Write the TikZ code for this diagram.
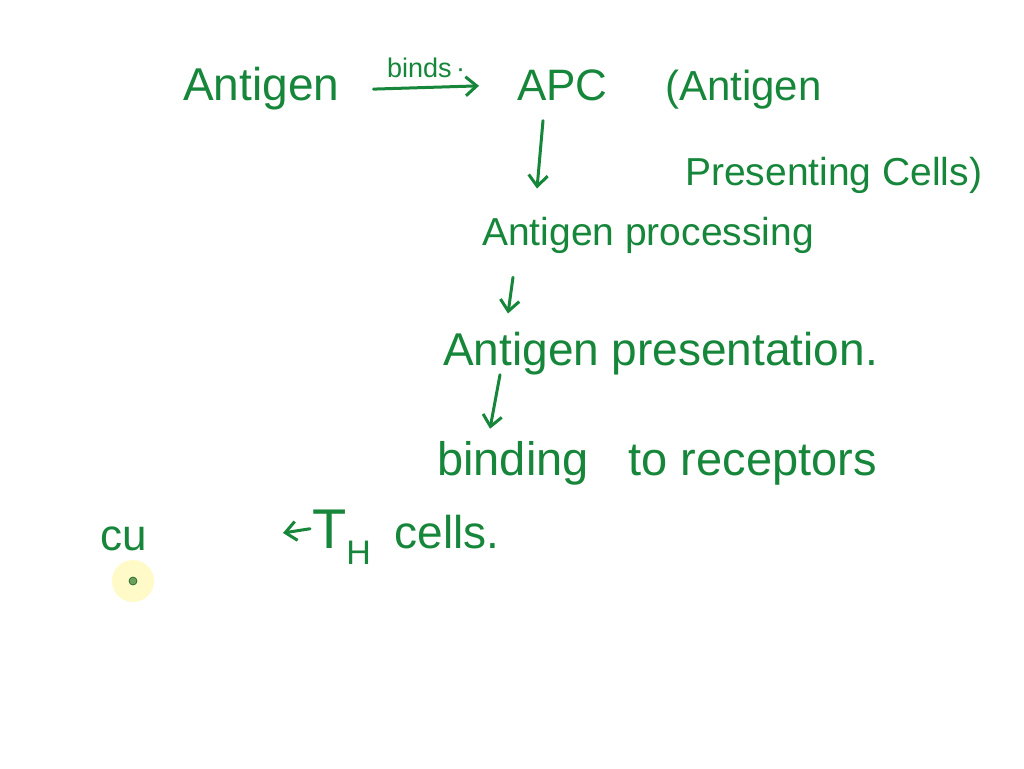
\documentclass[tikz,border=0pt]{standalone}
\usepackage{fontspec}
\setmainfont{Liberation Sans}
\usetikzlibrary{arrows.meta,calc}
\definecolor{ink}{RGB}{22,134,58}
\definecolor{hilite}{RGB}{255,250,190}
\definecolor{dotc}{RGB}{110,160,90}
\begin{document}
\begin{tikzpicture}[x=1pt,y=-1pt,
  txt/.style={inner sep=0pt,anchor=base west,text=ink,font=\fontsize{42}{46}\selectfont},
  small/.style={inner sep=0pt,anchor=base west,text=ink,font=\fontsize{27}{30}\selectfont},
  arr/.style={draw=ink,line width=3pt,line cap=round,line join=round,-{Straight Barb[length=11pt,width=19pt,line width=3pt]}}]
\useasboundingbox[fill=white] (0,0) rectangle (1024,768);
% nodes
\node[txt,font=\fontsize{46}{50}\selectfont] (ag) at (183,100) {Antigen};
\node[txt,font=\fontsize{44}{48}\selectfont] (apc) at (517,100) {APC};
\node[txt,font=\fontsize{42}{46}\selectfont] (paren) at (665,100) {(Antigen};
\node[txt,font=\fontsize{39}{44}\selectfont] (pcells) at (685,185) {Presenting Cells)};
\node[txt,font=\fontsize{39}{44}\selectfont] (proc) at (482,245) {Antigen processing};
\node[txt,font=\fontsize{46}{50}\selectfont] (pres) at (443,365) {Antigen presentation.};
\node[txt,font=\fontsize{47}{50}\selectfont] (bind) at (437,475) {binding\hspace{40pt}to receptors};
\node[txt,font=\fontsize{46}{50}\selectfont] (th) at (312,548) {{\fontsize{56}{60}\selectfont T}\raisebox{-16pt}{\fontsize{34}{36}\selectfont H}\hspace{24pt}cells.};
\node[txt,font=\fontsize{44}{48}\selectfont] (cu) at (100,550) {cu};
\coordinate (thend) at (283,533);
% connectors
\draw[arr] ($(ag.east)+(34,1)$) -- node[small,anchor=south,yshift=8pt] (binds) {binds\,·} ($(apc.west)+(-38,1)$);
\draw[arr] ($(apc.south west)+(26,20)$) -- ($(proc.north west)+(55,-28)$);
\draw[arr] ($(proc.south west)+(31,24)$) -- ($(pres.north west)+(65,-18)$);
\draw[arr] ($(pres.south west)+(57,0)$) -- ($(bind.north west)+(53,-12)$);
\draw[arr] ($(th.west)+(-2,-8)$) -- (thend);
% cursor highlight
\fill[hilite,opacity=0.85] (133,581) circle[radius=21];
\fill[dotc,draw=ink!70!black,line width=0.6pt] (133,581) circle[radius=4];
\end{tikzpicture}
\end{document}
